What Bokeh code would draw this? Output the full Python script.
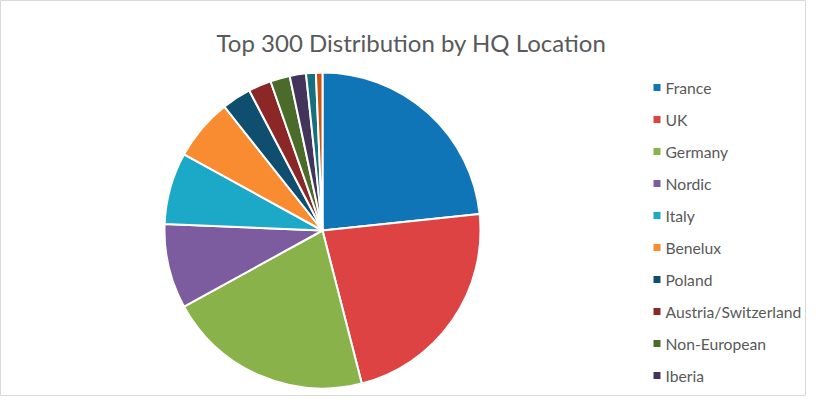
import numpy as np
import pandas as pd
from bokeh.plotting import figure
from bokeh.models import ColumnDataSource
from bokeh.core.properties import value
from bokeh.embed import file_html
from bokeh.resources import INLINE

# ---- data ----
regions = ["France", "UK", "Germany", "Nordic", "Italy", "Benelux", "Poland",
           "Austria/Switzerland", "Non-European", "Iberia", "Other", "Unknown"]
counts = [70, 68, 63, 26, 22, 19, 9, 7, 6, 5, 3, 2]
colors = ["#0F75B7", "#DE4343", "#89B34A", "#7C5C9E", "#1CA9C7", "#F98B30",
          "#104E6F", "#8C2727", "#4B6B2A", "#42345B", "#16707F", "#C8550F"]
legend_count = 10
title_text = "Top 300 Distribution by HQ Location"

W, H = 806, 396
cx, cy, R = 322, H - 230, 158

df = pd.DataFrame({"region": regions, "count": counts, "color": colors})
frac = df["count"] / df["count"].sum()
cum_end = frac.cumsum() * 2 * np.pi
cum_start = cum_end - frac * 2 * np.pi
df["start"] = np.pi / 2 - cum_end
df["end"] = np.pi / 2 - cum_start
src = ColumnDataSource(df)

p = figure(width=W, height=H, x_range=(0, W), y_range=(0, H),
           output_backend="svg", toolbar_location=None, min_border=0)
p.axis.visible = False
p.grid.visible = False
p.outline_line_color = "#D9D9D9"
p.outline_line_width = 1
p.background_fill_color = "white"
p.border_fill_color = "white"

p.wedge(x=cx, y=cy, radius=R, start_angle="start", end_angle="end",
        direction="anticlock", fill_color="color", line_color="white",
        line_width=2, source=src)

# title
p.text(x=[411], y=[H - 42], text=[title_text], text_font=value("Lato"),
       text_font_size="24px", text_color="#595959", text_align="center",
       text_baseline="alphabetic")

# legend (manual)
leg = df.iloc[:legend_count].copy()
leg["ly"] = [H - (87 + 32 * i) for i in range(legend_count)]
leg["mx"] = 656.5
leg["tx"] = 665
lsrc = ColumnDataSource(leg)
p.scatter(x="mx", y="ly", marker="square", size=7, fill_color="color",
          line_color=None, source=lsrc)
p.text(x="tx", y="ly", text="region", text_font=value("Lato"),
       text_font_size="15.7px", text_color="#595959", text_baseline="middle",
       source=lsrc)

open("out.html", "w").write(file_html(p, INLINE))
